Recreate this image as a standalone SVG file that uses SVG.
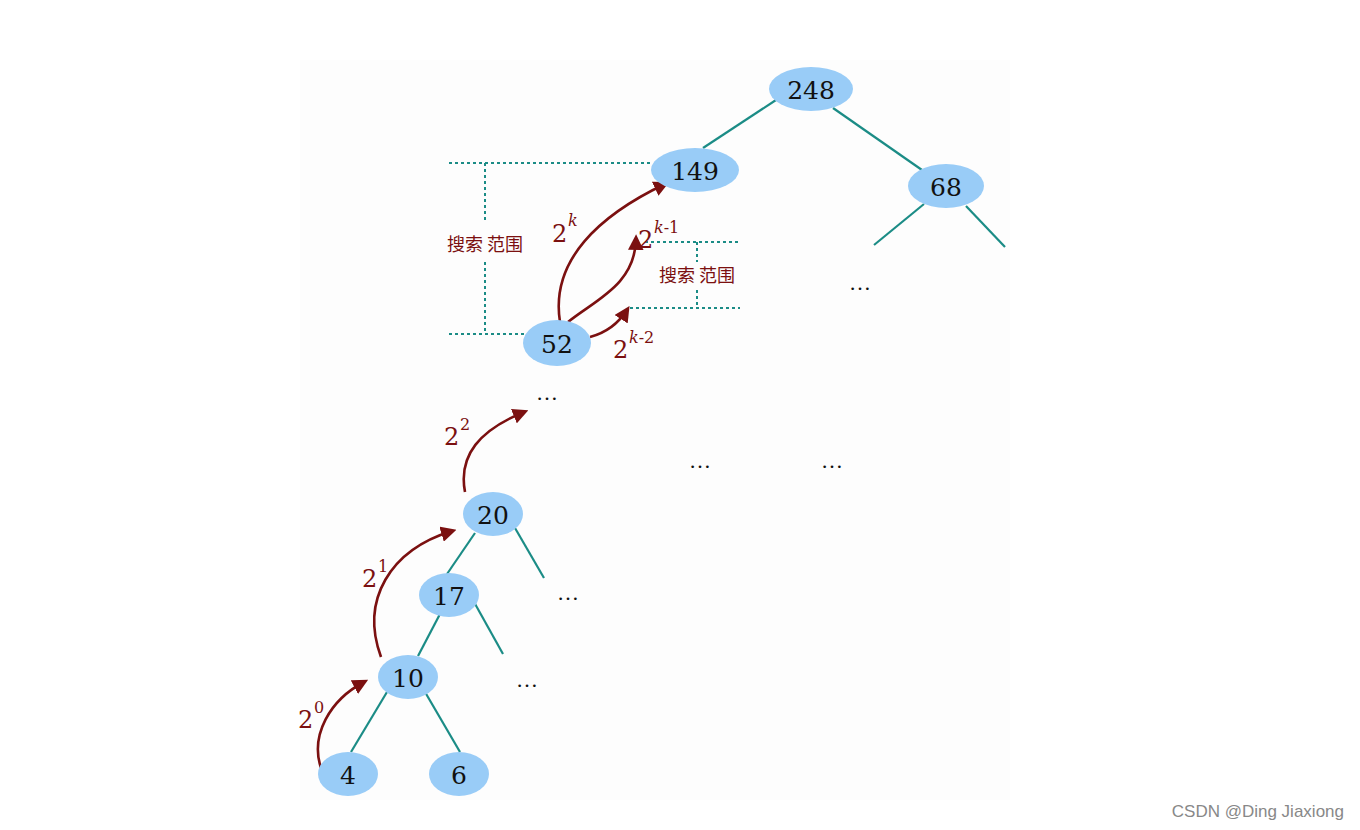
<svg xmlns="http://www.w3.org/2000/svg" width="1360" height="830" viewBox="0 0 1360 830">
<style>
.n ellipse{fill:#99ccf7}
.n text{font-family:"DejaVu Serif","Liberation Serif",serif;font-size:25px;fill:#111;text-anchor:middle;dominant-baseline:central}
.e line{stroke:#1b8c86;stroke-width:2.2}
.a path{fill:none;stroke:#7b1010;stroke-width:2.6;marker-end:url(#ah)}
.d{stroke:#1b8c86;stroke-width:2;stroke-dasharray:3 3;fill:none}
.l{font-family:"DejaVu Serif","Liberation Serif",serif;font-size:24px;fill:#7b1010}
.s{font-family:"DejaVu Serif","Liberation Serif",serif;font-size:16px;fill:#7b1010}
.c{font-family:"Noto Sans CJK SC",sans-serif;font-size:18px;fill:#7b1010;text-anchor:middle}
.dots{font-family:"Liberation Serif",serif;font-size:22px;fill:#111;text-anchor:middle;letter-spacing:2px}
</style>
<defs><marker id="ah" viewBox="0 0 10 10" refX="7" refY="5" markerWidth="6" markerHeight="6" orient="auto"><path d="M0,0 L10,5 L0,10 Z" fill="#7b1010"/></marker></defs>
<rect width="1360" height="830" fill="#fff"/>
<rect x="300" y="60" width="710" height="740" fill="#fdfdfd"/>
<g class="e">
<line x1="776" y1="100" x2="703" y2="148"/><line x1="833" y1="108" x2="922" y2="170"/>
<line x1="924" y1="204" x2="874" y2="245"/><line x1="966" y1="206" x2="1005" y2="247"/>
<line x1="475" y1="533" x2="447" y2="574"/><line x1="515" y1="528" x2="544" y2="578"/>
<line x1="440" y1="614" x2="418" y2="656"/><line x1="474" y1="602" x2="503" y2="654"/>
<line x1="387" y1="692" x2="351" y2="752"/><line x1="425" y1="692" x2="460" y2="752"/>
</g>
<g class="d-group">
<path class="d" d="M449,163 H652 M449,334 H525 M485,163 V222 M485,262 V334"/>
<path class="d" d="M645,242 H740 M630,308 H740 M697,242 V262 M697,290 V308"/>
</g>
<g class="a">
<path d="M321,768 C310,735 330,700 364,682"/>
<path d="M381,657 C360,600 390,550 452,531"/>
<path d="M465,492 C458,455 480,430 524,412"/>
<path d="M560,322 C550,260 600,215 665,184"/>
<path d="M568,322 C595,300 635,285 636,239"/>
<path d="M590,337 C605,333 618,324 627,310"/>
</g>
<g id="n248" class="n"><ellipse cx="811" cy="89" rx="42" ry="22"/><text x="811" y="90">248</text></g>
<g id="n149" class="n"><ellipse cx="695" cy="170" rx="44" ry="22"/><text x="695" y="171">149</text></g>
<g id="n68" class="n"><ellipse cx="946" cy="186" rx="38" ry="22"/><text x="946" y="187">68</text></g>
<g id="n52" class="n"><ellipse cx="557" cy="343" rx="34" ry="23"/><text x="557" y="344">52</text></g>
<g id="n20" class="n"><ellipse cx="493" cy="514" rx="30" ry="22"/><text x="493" y="515">20</text></g>
<g id="n17" class="n"><ellipse cx="449" cy="595" rx="30" ry="22"/><text x="449" y="596">17</text></g>
<g id="n10" class="n"><ellipse cx="408" cy="677" rx="30" ry="22"/><text x="408" y="678">10</text></g>
<g id="n4" class="n"><ellipse cx="348" cy="774" rx="30" ry="22"/><text x="348" y="775">4</text></g>
<g id="n6" class="n"><ellipse cx="459" cy="774" rx="30" ry="22"/><text x="459" y="775">6</text></g>
<text class="c" x="485" y="251">搜索 范围</text>
<text class="c" x="697" y="282">搜索 范围</text>
<text class="l" x="552" y="242">2</text><text class="s" x="568" y="226" font-style="italic">k</text>
<text class="l" x="638" y="248">2</text><text class="s" x="654" y="233"><tspan font-style="italic">k</tspan>-1</text>
<text class="l" x="613" y="358">2</text><text class="s" x="629" y="343"><tspan font-style="italic">k</tspan>-2</text>
<text class="l" x="444" y="445">2</text><text class="s" x="460" y="430">2</text>
<text class="l" x="362" y="587">2</text><text class="s" x="378" y="572">1</text>
<text class="l" x="298" y="728">2</text><text class="s" x="314" y="713">0</text>
<text class="dots" x="548" y="400">…</text>
<text class="dots" x="701" y="468">…</text>
<text class="dots" x="833" y="468">…</text>
<text class="dots" x="861" y="290">…</text>
<text class="dots" x="569" y="600">…</text>
<text class="dots" x="528" y="687">…</text>
<text x="1344" y="817" text-anchor="end" font-family="Liberation Sans,sans-serif" font-size="17" fill="#888">CSDN @Ding Jiaxiong</text>
</svg>
